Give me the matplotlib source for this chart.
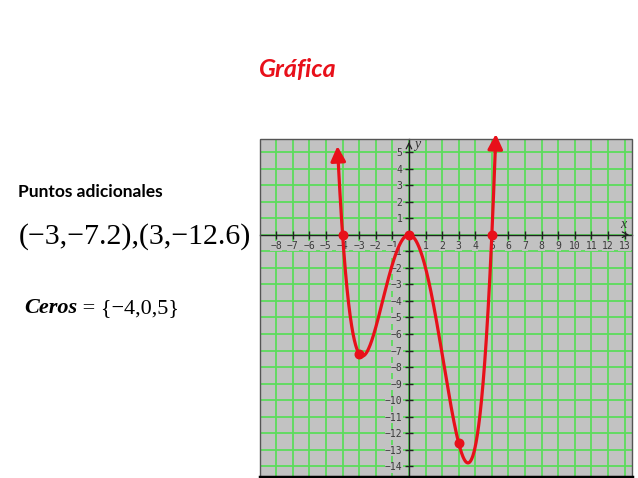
import numpy as np
import matplotlib
matplotlib.use("Agg")
import matplotlib.pyplot as plt
from matplotlib.patches import Rectangle

# data from the slide
zeros = [-4, 0, 0, 5]          # 0 is a double root (curve touches)
extra_x = [-3, 3]
extra_y = [-7.2, -12.6]
x_ticks = [t for t in range(-8, 14) if t != 0]
y_ticks = [t for t in range(-14, 6) if t != 0]
curve_span = (-4.27, 5.2)

# leading coefficient from the first extra point
base = np.poly(zeros)
a = extra_y[0] / np.polyval(base, extra_x[0])
coef = a * base

fig = plt.figure(figsize=(6.38, 4.78), dpi=100)
fig.patch.set_facecolor("white")

red = "#e8101a"
fig.text(0.466, 0.854, "Gráfica", color=red, fontsize=18, fontweight="bold",
         fontstyle="italic", family="Lato", ha="center", va="center")
fig.text(0.028, 0.588, "Puntos adicionales", fontsize=12.5, fontweight="bold",
         family="Lato", ha="left", va="baseline")
fig.text(0.030, 0.4895, "(\u22123,\u22127.2),(3,\u221212.6)", fontsize=21.5,
         family="Liberation Serif", ha="left", va="baseline")
t1 = fig.text(0.038, 0.345, "Ceros", fontsize=16, fontweight="bold",
              fontstyle="italic", family="Liberation Serif", ha="left", va="baseline")

ax = fig.add_axes([0.4075, 0.002, 0.5831, 0.707])
ax.set_xlim(-8.98, 13.45)
ax.set_ylim(-14.65, 5.78)
ax.set_facecolor("#c2c2c2")

ax.annotate(" = {\u22124,0,5}", xy=(1, 0), xycoords=t1, fontsize=16,
            family="Liberation Serif", ha="left", va="bottom",
            annotation_clip=False)

grid_green = "#5cdc5c"
for gx in range(-8, 14):
    ax.axvline(gx, color=grid_green, lw=1.3, zorder=1)
for gy in range(-14, 6):
    ax.axhline(gy, color=grid_green, lw=1.3, zorder=1)

for s in ["top", "right"]:
    ax.spines[s].set_visible(False)
ax.spines["left"].set_position(("data", 0))
ax.spines["bottom"].set_position(("data", 0))
for s in ["left", "bottom"]:
    ax.spines[s].set_color("#222222")
    ax.spines[s].set_linewidth(1.0)
    ax.spines[s].set_zorder(2)

# outer frame
ax.add_patch(Rectangle((0, 0), 1, 1, transform=ax.transAxes, fill=False,
                       edgecolor="#555555", lw=1.0, zorder=5, clip_on=False))
ax.plot([0, 1], [0, 0], transform=ax.transAxes, color="black", lw=2.5,
        zorder=6, clip_on=False)

ax.set_xticks(x_ticks)
ax.set_yticks(y_ticks)
ax.set_xticklabels([str(t).replace("-", "\u2212") for t in x_ticks])
ax.set_yticklabels([str(t).replace("-", "\u2212") for t in y_ticks])
ax.tick_params(axis="both", direction="inout", length=6, width=1.0,
               color="#222222", labelsize=7, labelcolor="#3a3a3a", pad=1.5)
for lbl in ax.get_xticklabels() + ax.get_yticklabels():
    lbl.set_family("DejaVu Sans Mono")
    lbl.set_bbox(dict(facecolor="#c2c2c2", edgecolor="none", pad=0.2))

# axis arrows and names
ax.annotate("", xy=(0, 5.78), xytext=(0, 5.2),
            arrowprops=dict(arrowstyle="->", color="#222222", lw=0.9))
ax.annotate("", xy=(13.45, 0), xytext=(12.9, 0),
            arrowprops=dict(arrowstyle="->", color="#222222", lw=0.9))
ax.text(0.5, 5.45, "y", fontsize=10, fontstyle="italic",
        family="Liberation Serif", ha="center", va="center", color="#333333")
ax.text(12.9, 0.6, "x", fontsize=10, fontstyle="italic",
        family="Liberation Serif", ha="center", va="center", color="#333333")

# the curve
xs = np.linspace(curve_span[0], curve_span[1], 600)
ys = np.polyval(coef, xs)
ax.plot(xs, ys, color=red, lw=2.3, zorder=7, solid_capstyle="butt")
for xe, step in [(xs[0], -0.04), (xs[-1], 0.04)]:
    ye = np.polyval(coef, xe)
    ax.annotate("", xy=(xe + step, np.polyval(coef, xe + step)),
                xytext=(xe, ye),
                arrowprops=dict(arrowstyle="-|>,head_length=0.9,head_width=0.45",
                                color=red, lw=2.3, shrinkA=0, shrinkB=0),
                annotation_clip=False, zorder=8)

pts_x = [-4, 0, 5] + extra_x
pts_y = [0, 0, 0] + extra_y
ax.scatter(pts_x, pts_y, s=38, color=red, zorder=9, clip_on=False)

fig.savefig("out.png", dpi=100)
